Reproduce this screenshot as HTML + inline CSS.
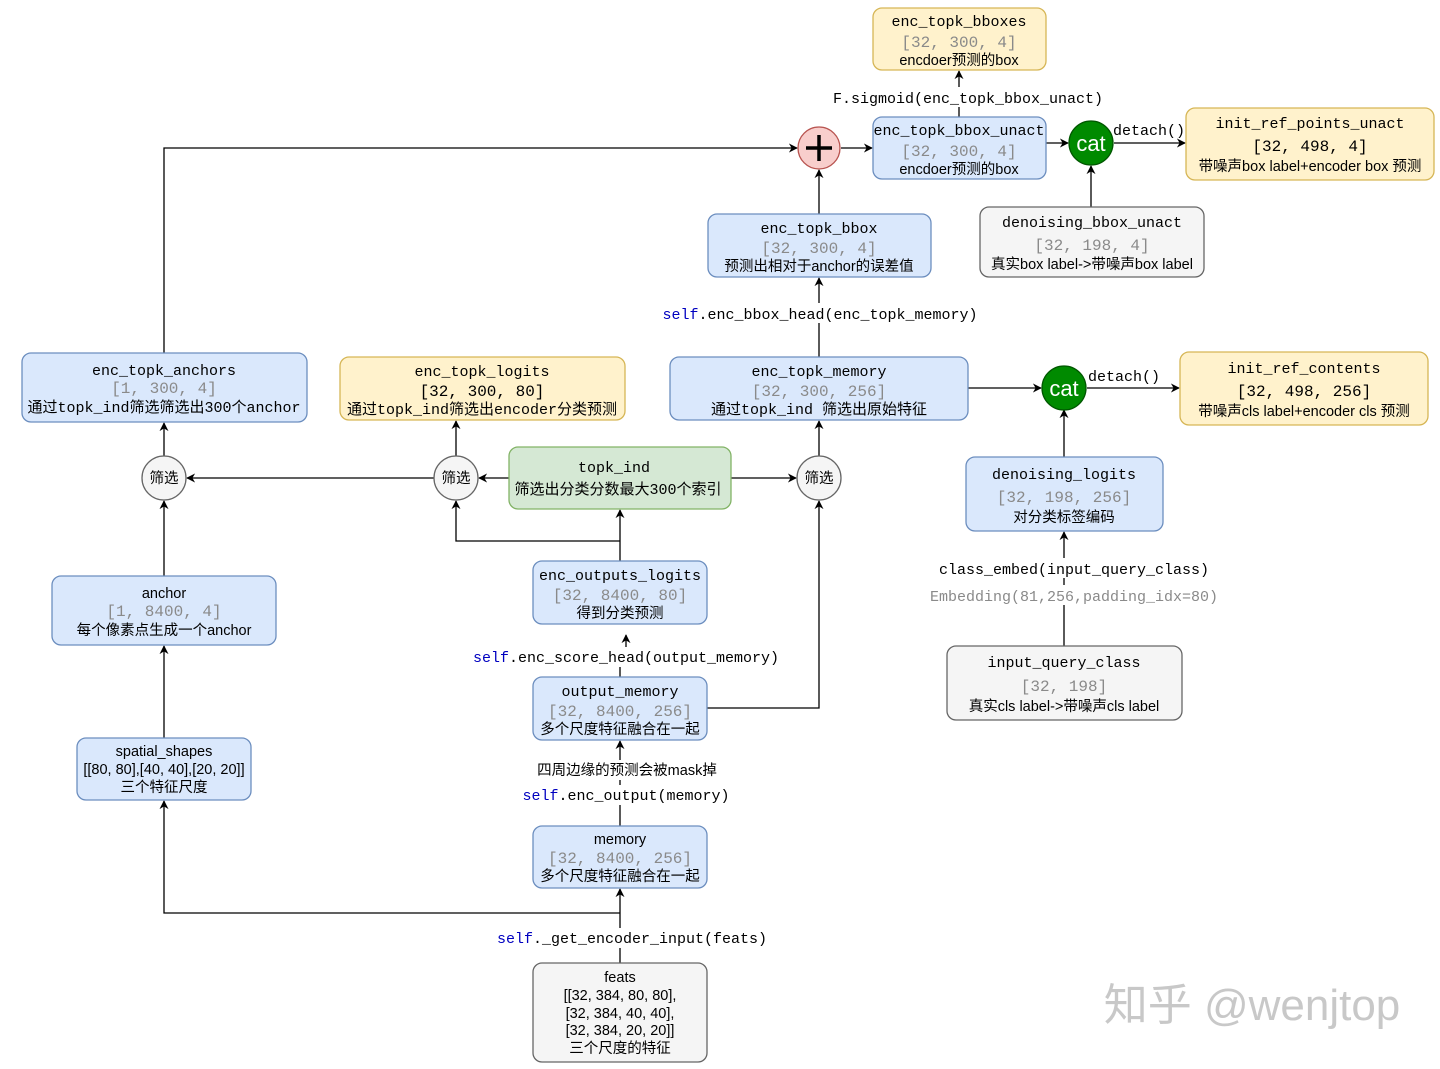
<!DOCTYPE html>
<html><head><meta charset="utf-8">
<style>
html,body{margin:0;padding:0;background:#fff;}
svg{display:block;}
.m{font-family:"Liberation Mono","Noto Sans CJK SC",monospace;font-size:15px;fill:#000;}
.s{font-family:"Liberation Sans","Noto Sans CJK SC",sans-serif;font-size:14.5px;fill:#000;}
.g{fill:#8a8a8a;font-size:16px;}
.kw{fill:#0000c0;}
</style></head>
<body>
<svg width="1440" height="1069" viewBox="0 0 1440 1069" xmlns="http://www.w3.org/2000/svg">
<defs>
<marker id="a" viewBox="0 0 10 10" refX="9" refY="5" markerWidth="9" markerHeight="9" orient="auto-start-reverse" markerUnits="userSpaceOnUse">
<path d="M0,0 L10,5 L0,10 L3,5 z" fill="#000"/></marker>
</defs>
<g fill="none" stroke="#000" stroke-width="1.3" marker-end="url(#a)">
<path d="M164,353 V148 H797"/>
<path d="M841,148 H872"/>
<path d="M959,117 V71"/>
<path d="M1046,143 H1068"/>
<path d="M1114,143 H1185"/>
<path d="M1091,207 V166"/>
<path d="M819,214 V170"/>
<path d="M819,357 V278"/>
<path d="M968,388 H1041"/>
<path d="M1087,388 H1179"/>
<path d="M1064,457 V410"/>
<path d="M1064,646 V532"/>
<path d="M164,456 V423"/>
<path d="M456,456 V421"/>
<path d="M819,456 V421"/>
<path d="M509,478 H479"/>
<path d="M434,478 H187"/>
<path d="M731,478 H796"/>
<path d="M620,561 V510"/>
<path d="M620,541 H456 V501"/>
<path d="M620,677 V650 H626 V635"/>
<path d="M707,708 H819 V501"/>
<path d="M620,826 V741"/>
<path d="M620,963 V889"/>
<path d="M620,913 H164 V801"/>
<path d="M164,738 V646"/>
<path d="M164,576 V501"/>
</g>
<g fill="#fff">
<rect x="832" y="87" width="272" height="20"/>
<rect x="662" y="303" width="316" height="20"/>
<rect x="473" y="647" width="306" height="20"/>
<rect x="532" y="760" width="190" height="20"/>
<rect x="522" y="785" width="208" height="20"/>
<rect x="497" y="928" width="270" height="20"/>
<rect x="938" y="558" width="272" height="20"/>
<rect x="930" y="585" width="290" height="20"/>
</g>
<g stroke-width="1.3">
<rect x="873" y="8" width="173" height="62" rx="9" fill="#fff2cc" stroke="#d6b656"/>
<rect x="873" y="117" width="173" height="62" rx="9" fill="#dae8fc" stroke="#6c8ebf"/>
<rect x="1186" y="108" width="248" height="72" rx="9" fill="#fff2cc" stroke="#d6b656"/>
<rect x="980" y="207" width="224" height="70" rx="9" fill="#f5f5f5" stroke="#666"/>
<rect x="708" y="214" width="223" height="63" rx="9" fill="#dae8fc" stroke="#6c8ebf"/>
<rect x="22" y="353" width="285" height="69" rx="9" fill="#dae8fc" stroke="#6c8ebf"/>
<rect x="340" y="357" width="285" height="63" rx="9" fill="#fff2cc" stroke="#d6b656"/>
<rect x="670" y="357" width="298" height="63" rx="9" fill="#dae8fc" stroke="#6c8ebf"/>
<rect x="1180" y="352" width="248" height="73" rx="9" fill="#fff2cc" stroke="#d6b656"/>
<rect x="509" y="447" width="222" height="62" rx="9" fill="#d5e8d4" stroke="#82b366"/>
<rect x="966" y="457" width="197" height="74" rx="9" fill="#dae8fc" stroke="#6c8ebf"/>
<rect x="533" y="561" width="174" height="63" rx="9" fill="#dae8fc" stroke="#6c8ebf"/>
<rect x="52" y="576" width="224" height="69" rx="9" fill="#dae8fc" stroke="#6c8ebf"/>
<rect x="947" y="646" width="235" height="74" rx="9" fill="#f5f5f5" stroke="#666"/>
<rect x="533" y="677" width="174" height="63" rx="9" fill="#dae8fc" stroke="#6c8ebf"/>
<rect x="77" y="738" width="174" height="62" rx="9" fill="#dae8fc" stroke="#6c8ebf"/>
<rect x="533" y="826" width="174" height="62" rx="9" fill="#dae8fc" stroke="#6c8ebf"/>
<rect x="533" y="963" width="174" height="99" rx="9" fill="#f5f5f5" stroke="#666"/>
<circle cx="819" cy="148" r="21" fill="#f8cecc" stroke="#b85450"/>
<circle cx="1091" cy="143" r="22" fill="#008a00" stroke="#005700"/>
<circle cx="1064" cy="388" r="22" fill="#008a00" stroke="#005700"/>
<circle cx="164" cy="478" r="22" fill="#f5f5f5" stroke="#666"/>
<circle cx="456" cy="478" r="22" fill="#f5f5f5" stroke="#666"/>
<circle cx="819" cy="478" r="22" fill="#f5f5f5" stroke="#666"/>
</g>
<path d="M819,135 V161 M806,148 H832" stroke="#000" stroke-width="3.5"/>
<g text-anchor="middle">
<text x="1091" y="151" class="s" style="font-size:22px;fill:#fff">cat</text>
<text x="1064" y="396" class="s" style="font-size:22px;fill:#fff">cat</text>
<text x="164" y="483" class="s">筛选</text>
<text x="456" y="483" class="s">筛选</text>
<text x="819" y="483" class="s">筛选</text>

<text x="959" y="26" class="m">enc_topk_bboxes</text>
<text x="959" y="47" class="m g">[32, 300, 4]</text>
<text x="959" y="65" class="s">encdoer预测的box</text>

<text x="968" y="103" class="m">F.sigmoid(enc_topk_bbox_unact)</text>

<text x="959" y="135" class="m">enc_topk_bbox_unact</text>
<text x="959" y="156" class="m g">[32, 300, 4]</text>
<text x="959" y="174" class="s">encdoer预测的box</text>

<text x="1149" y="135" class="m">detach()</text>

<text x="1310" y="128" class="m">init_ref_points_unact</text>
<text x="1310" y="151" class="m" style="font-size:16px">[32, 498, 4]</text>
<text x="1310" y="171" class="s">带噪声box label+encoder box 预测</text>

<text x="1092" y="227" class="m">denoising_bbox_unact</text>
<text x="1092" y="250" class="m g">[32, 198, 4]</text>
<text x="1092" y="269" class="s">真实box label-&gt;带噪声box label</text>

<text x="819" y="233" class="m">enc_topk_bbox</text>
<text x="819" y="253" class="m g">[32, 300, 4]</text>
<text x="819" y="271" class="s">预测出相对于anchor的误差值</text>

<text x="820" y="319" class="m"><tspan class="kw">self</tspan>.enc_bbox_head(enc_topk_memory)</text>

<text x="164" y="375" class="m">enc_topk_anchors</text>
<text x="164" y="393" class="m g">[1, 300, 4]</text>
<text x="164" y="412" class="m">通过topk_ind筛选筛选出300个anchor</text>

<text x="482" y="376" class="m">enc_topk_logits</text>
<text x="482" y="396" class="m" style="font-size:16px">[32, 300, 80]</text>
<text x="482" y="414" class="m">通过topk_ind筛选出encoder分类预测</text>

<text x="819" y="376" class="m">enc_topk_memory</text>
<text x="819" y="396" class="m g">[32, 300, 256]</text>
<text x="819" y="414" class="m">通过topk_ind 筛选出原始特征</text>

<text x="1124" y="381" class="m">detach()</text>

<text x="1304" y="373" class="m">init_ref_contents</text>
<text x="1304" y="396" class="m" style="font-size:16px">[32, 498, 256]</text>
<text x="1304" y="416" class="s">带噪声cls label+encoder cls 预测</text>

<text x="614" y="472" class="m">topk_ind</text>
<text x="618" y="494" class="m">筛选出分类分数最大300个索引</text>

<text x="1064" y="479" class="m">denoising_logits</text>
<text x="1064" y="502" class="m g">[32, 198, 256]</text>
<text x="1064" y="522" class="s">对分类标签编码</text>

<text x="620" y="580" class="m">enc_outputs_logits</text>
<text x="620" y="600" class="m g">[32, 8400, 80]</text>
<text x="620" y="618" class="s">得到分类预测</text>

<text x="1074" y="574" class="m">class_embed(input_query_class)</text>
<text x="1074" y="601" class="m g" style="font-size:15px">Embedding(81,256,padding_idx=80)</text>

<text x="164" y="598" class="s">anchor</text>
<text x="164" y="616" class="m g">[1, 8400, 4]</text>
<text x="164" y="635" class="s">每个像素点生成一个anchor</text>

<text x="626" y="662" class="m"><tspan class="kw">self</tspan>.enc_score_head(output_memory)</text>

<text x="1064" y="667" class="m">input_query_class</text>
<text x="1064" y="691" class="m g">[32, 198]</text>
<text x="1064" y="711" class="s">真实cls label-&gt;带噪声cls label</text>

<text x="620" y="696" class="m">output_memory</text>
<text x="620" y="716" class="m g">[32, 8400, 256]</text>
<text x="620" y="734" class="s">多个尺度特征融合在一起</text>

<text x="164" y="756" class="s">spatial_shapes</text>
<text x="164" y="774" class="s">[[80, 80],[40, 40],[20, 20]]</text>
<text x="164" y="792" class="s">三个特征尺度</text>

<text x="627" y="775" class="s">四周边缘的预测会被mask掉</text>
<text x="626" y="800" class="m"><tspan class="kw">self</tspan>.enc_output(memory)</text>

<text x="620" y="844" class="s">memory</text>
<text x="620" y="863" class="m g">[32, 8400, 256]</text>
<text x="620" y="881" class="s">多个尺度特征融合在一起</text>

<text x="632" y="943" class="m"><tspan class="kw">self</tspan>._get_encoder_input(feats)</text>

<text x="620" y="982" class="s">feats</text>
<text x="620" y="1000" class="s">[[32, 384, 80, 80],</text>
<text x="620" y="1018" class="s">[32, 384, 40, 40],</text>
<text x="620" y="1035" class="s">[32, 384, 20, 20]]</text>
<text x="620" y="1053" class="s">三个尺度的特征</text>

<text x="1252" y="1020" class="s" style="font-size:44px;fill:#c8c8c8;">知乎 @wenjtop</text>
</g>
</svg>
</body></html>
